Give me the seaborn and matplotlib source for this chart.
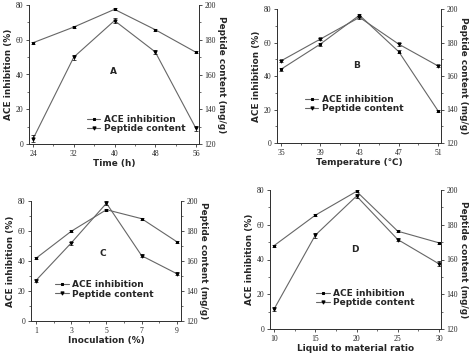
import matplotlib
matplotlib.use("Agg")
import matplotlib.pyplot as plt
import seaborn as sns
from matplotlib.ticker import AutoMinorLocator, MultipleLocator

sns.set_style("ticks")
plt.rcParams['font.family'] = ['DejaVu Sans']

# panel A - time
time_x = [24, 32, 40, 48, 56]
time_ace = [58.3, 67.3, 77.5, 65.8, 52.8]
time_ace_err = [0.6, 0.6, 0.6, 0.6, 0.6]
time_pep = [123, 170, 191, 173, 129]
time_pep_err = [2.0, 1.5, 1.5, 1.2, 1.5]

# panel B - temperature
temp_x = [35, 39, 43, 47, 51]
temp_ace = [44.0, 59.0, 76.3, 54.5, 19.2]
temp_ace_err = [1.0, 1.0, 0.8, 0.8, 0.8]
temp_pep = [169, 182, 195, 179, 166]
temp_pep_err = [0.8, 0.8, 0.8, 0.8, 0.8]

# panel C - inoculation
inoc_x = [1, 3, 5, 7, 9]
inoc_ace = [41.8, 59.8, 74.2, 68.2, 52.8]
inoc_ace_err = [0.6, 0.6, 0.6, 0.6, 0.6]
inoc_pep = [147, 172, 198.5, 163.5, 151.5]
inoc_pep_err = [1.0, 1.0, 1.2, 1.0, 1.0]

# panel D - liquid to material ratio
ratio_x = [10, 15, 20, 25, 30]
ratio_ace = [48.0, 65.5, 79.2, 56.3, 49.6]
ratio_ace_err = [0.6, 0.6, 0.6, 0.6, 0.6]
ratio_pep = [131.5, 174, 196.5, 171.5, 157.5]
ratio_pep_err = [1.0, 1.5, 1.0, 1.0, 1.5]

W, H = 474, 353
fig = plt.figure(figsize=(W / 100, H / 100), dpi=100)

line_col = "#666666"
tick_font = dict(family="Liberation Serif", size=5.5)


def panel(box, x, ace, ace_err, pep, pep_err, xlim, xlabel, letter, letter_xy, leg_xy):
    l, t, r, b = box
    ax = fig.add_axes([l / W, (H - b) / H, (r - l) / W, (b - t) / H])
    ax2 = ax.twinx()
    sns.lineplot(x=x, y=ace, ax=ax, color=line_col, lw=0.8, marker="s", markersize=2.0,
                 markerfacecolor="black", markeredgecolor="black", label="ACE inhibition", legend=False)
    ax.errorbar(x, ace, yerr=ace_err, fmt="none", ecolor="black", elinewidth=0.5, capsize=1.2, capthick=0.5)
    sns.lineplot(x=x, y=pep, ax=ax2, color=line_col, lw=0.8, marker="v", markersize=2.3,
                 markerfacecolor="black", markeredgecolor="black", label="Peptide content", legend=False)
    ax2.errorbar(x, pep, yerr=pep_err, fmt="none", ecolor="black", elinewidth=0.5, capsize=1.2, capthick=0.5)

    ax.set_xlim(*xlim)
    ax.set_ylim(0, 80)
    ax2.set_ylim(120, 200)
    ax.set_xticks(x)
    ax.xaxis.set_minor_locator(AutoMinorLocator(2))
    ax.yaxis.set_major_locator(MultipleLocator(20))
    ax.yaxis.set_minor_locator(MultipleLocator(10))
    ax2.yaxis.set_major_locator(MultipleLocator(20))
    ax2.yaxis.set_minor_locator(MultipleLocator(10))

    for a in (ax, ax2):
        a.spines["top"].set_visible(False)
        for s in a.spines.values():
            s.set_linewidth(0.7)
            s.set_color("#333333")
        a.tick_params(which="major", length=2.5, width=0.6, pad=1.5, color="#333333")
        a.tick_params(which="minor", length=1.3, width=0.5, color="#333333")
        for lab in a.get_xticklabels() + a.get_yticklabels():
            lab.set_fontfamily(tick_font["family"])
            lab.set_fontsize(tick_font["size"])

    ax.set_xlabel(xlabel, fontsize=6.4, fontweight="bold", labelpad=1)
    ax.set_ylabel("ACE inhibition (%)", fontsize=6.4, fontweight="bold", labelpad=2)
    ax2.set_ylabel("Peptide content (mg/g)", fontsize=6.4, fontweight="bold", rotation=270, labelpad=7)

    ax.text(letter_xy[0], letter_xy[1], letter, fontsize=6.5, fontweight="bold", ha="center", va="center")

    h1, l1 = ax.get_legend_handles_labels()
    h2, l2 = ax2.get_legend_handles_labels()
    ax2.legend(h1 + h2, l1 + l2, loc="upper left", bbox_to_anchor=leg_xy, frameon=False,
               prop=dict(size=6.5, weight="bold"), handlelength=1.5, handletextpad=0.4,
               labelspacing=0.05, borderpad=0, borderaxespad=0)
    return ax


panel((29, 5, 199, 144), time_x, time_ace, time_ace_err, time_pep, time_pep_err,
      (23.2, 56.6), "Time (h)", "A", (39.7, 42), (0.34, 0.21))
panel((277, 9, 441, 143), temp_x, temp_ace, temp_ace_err, temp_pep, temp_pep_err,
      (34.6, 51.3), "Temperature (\u2103)", "B", (42.7, 46), (0.17, 0.36))
panel((31, 201, 181, 321), inoc_x, inoc_ace, inoc_ace_err, inoc_pep, inoc_pep_err,
      (0.72, 9.23), "Inoculation (%)", "C", (4.8, 45), (0.16, 0.34))
panel((270, 190, 441, 329), ratio_x, ratio_ace, ratio_ace_err, ratio_pep, ratio_pep_err,
      (9.5, 30.25), "Liquid to material ratio", "D", (19.8, 46), (0.27, 0.29))

fig.savefig("out.png", dpi=100)
